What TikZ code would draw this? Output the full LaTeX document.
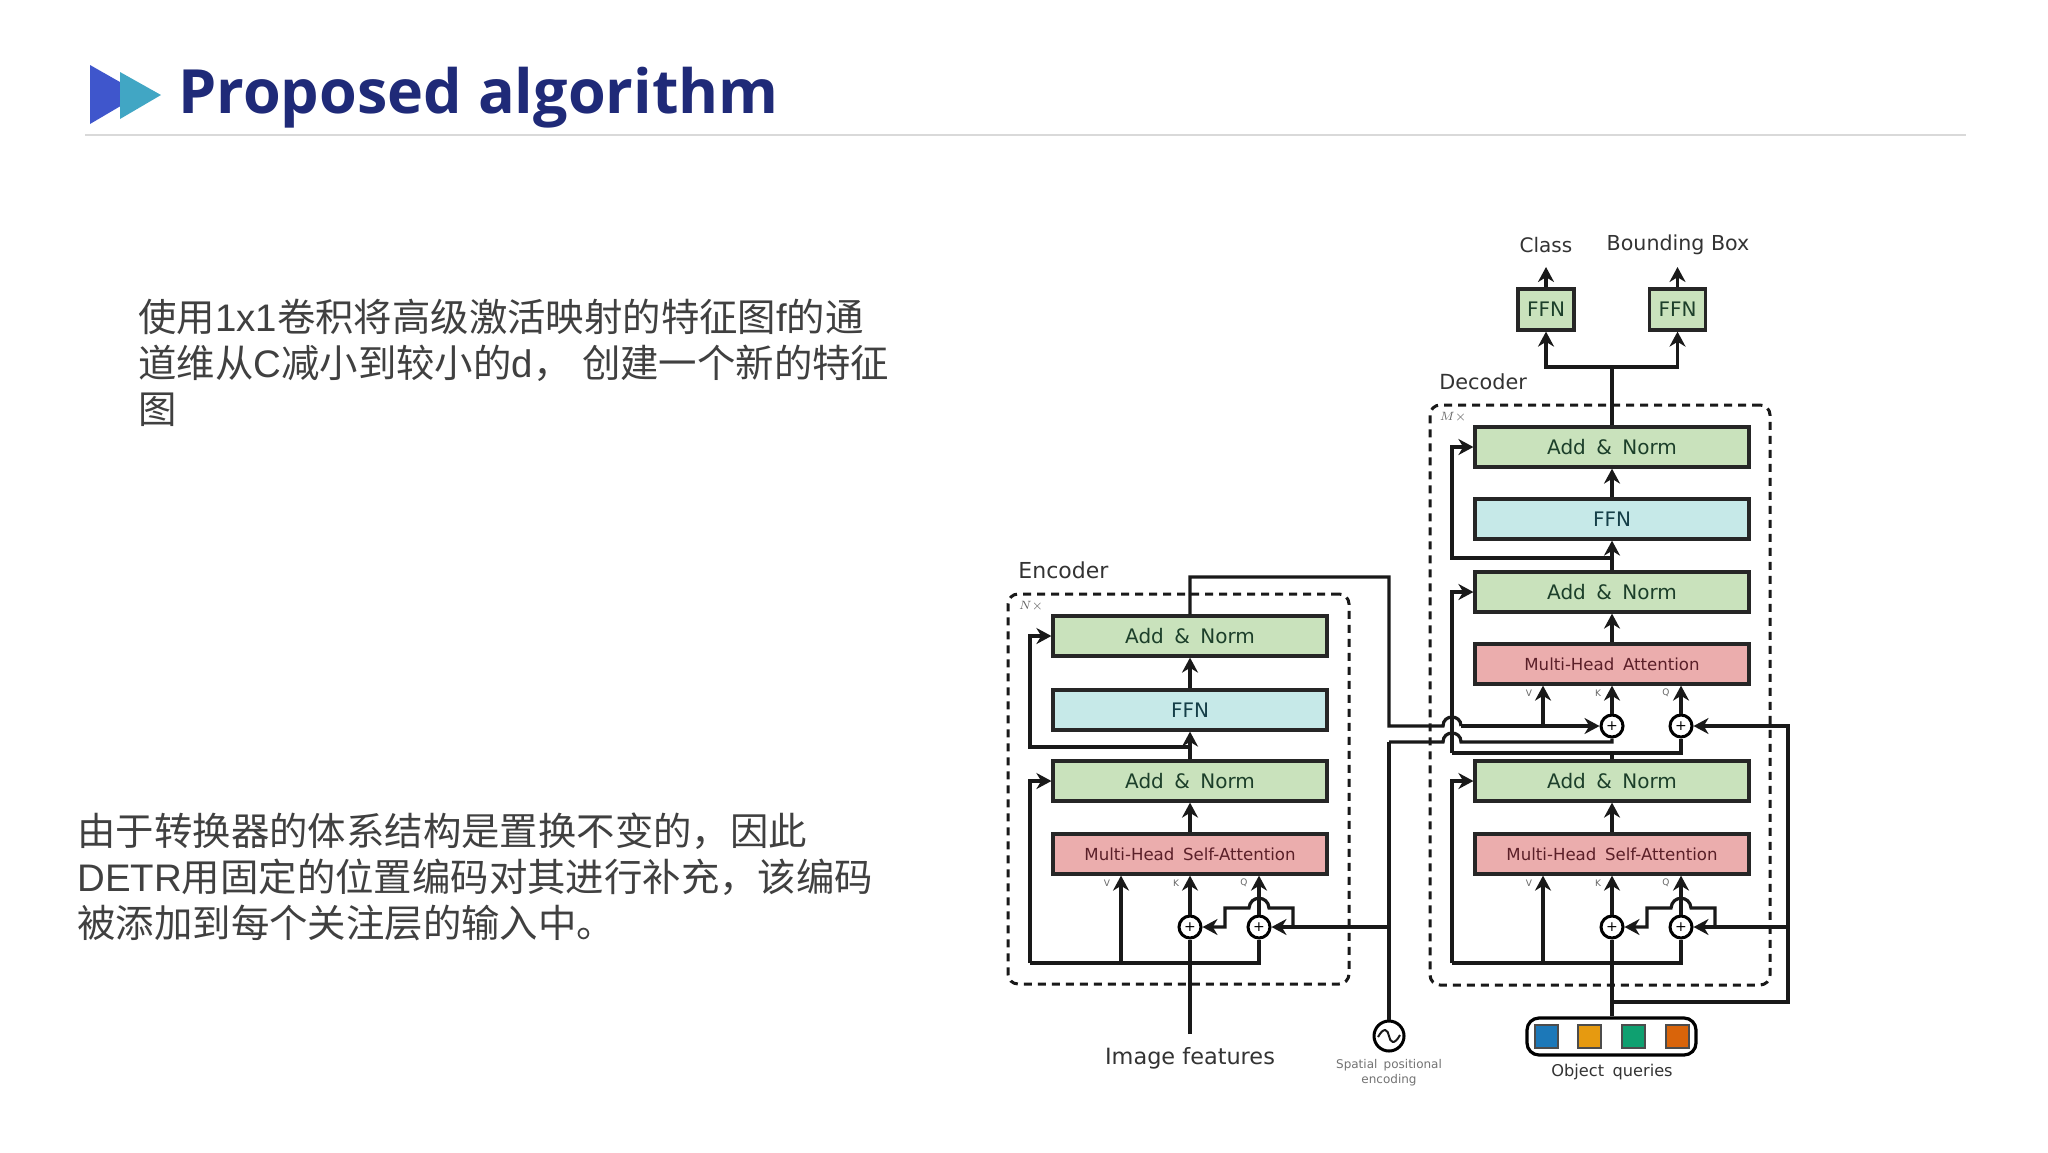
\documentclass[tikz,border=0pt]{standalone}
\usepackage{fontspec}
\setmainfont{Liberation Sans}
\newfontfamily\cjk{Noto Sans CJK SC}
\newfontfamily\djn{DejaVu Sans}
\newfontfamily\ttl{Open Sans}
\newcommand{\wsp}{\hspace{0.52em}}
\usetikzlibrary{arrows.meta,calc}
\definecolor{titleblue}{HTML}{1F2A78}
\definecolor{triA}{HTML}{3F56CC}
\definecolor{triB}{HTML}{41A6C4}
\definecolor{bodygrey}{HTML}{404040}
\definecolor{gbox}{HTML}{C9E2BC}
\definecolor{bbox}{HTML}{C6E9E8}
\definecolor{rbox}{HTML}{EBADAD}
\definecolor{inkg}{HTML}{1C3F2A}
\definecolor{inkb}{HTML}{153F48}
\definecolor{inkr}{HTML}{5A1F28}
\definecolor{lab}{HTML}{333333}
\definecolor{qa}{HTML}{1C78B8}
\definecolor{qb}{HTML}{E69A10}
\definecolor{qc}{HTML}{0FA070}
\definecolor{qd}{HTML}{D9640A}
\tikzset{
  wire/.style={line width=1.6pt,black!90,line join=miter},
  arr/.style={wire,-{Stealth[length=7.5pt,width=8pt,inset=2.4pt]}},
  layer/.style={draw=black!85,line width=1.6pt,minimum width=137pt,minimum height=20pt,inner sep=0pt,font=\djn\fontsize{10}{12}\selectfont},
  an/.style={layer,fill=gbox,text=inkg},
  ff/.style={layer,fill=bbox,text=inkb},
  mh/.style={layer,fill=rbox,text=inkr,font=\djn\fontsize{8.3}{10}\selectfont},
  small/.style={draw=black!85,line width=1.6pt,fill=gbox,text=inkg,minimum width=28pt,minimum height=20.5pt,inner sep=0pt,font=\djn\fontsize{10}{12}\selectfont},
  plus/.style={circle,draw=black,line width=1.5pt,fill=white,minimum size=11pt,inner sep=0pt,font=\djn\fontsize{7}{7}\selectfont},
  dashbox/.style={draw=black!90,line width=1.5pt,dash pattern=on 4pt off 3pt,rounded corners=5pt,inner sep=0pt},
  vkq/.style={inner sep=0pt,text=black!60,font=\djn\fontsize{4.5}{5}\selectfont},
  lbl/.style={inner sep=0pt,text=lab,font=\djn\fontsize{10}{12}\selectfont},
  body/.style={anchor=base west,inner sep=0pt,text=bodygrey,font=\fontsize{19.2}{23}\selectfont},
  sq/.style={draw=black!70,line width=.8pt,minimum size=11.5pt,inner sep=0pt},
}
\begin{document}
\begin{tikzpicture}[x=0.5pt,y=-0.5pt]
\useasboundingbox (0,0) rectangle (2048,1152);
\fill[white] (0,0) rectangle (2048,1152);
% header
\fill[triA] (90,65) -- (141,94) -- (90,124) -- cycle;
\fill[triB] (120,72) -- (161,95) -- (120,119) -- cycle;
\node[anchor=base west,inner sep=0pt,text=titleblue,font=\ttl\bfseries\fontsize{30.5}{36}\selectfont] (title) at (178,113) {Proposed algorithm};
\coordinate (ruleL) at (85,134.5);
\coordinate (ruleR) at (1966,134.5);
\draw[black!15,line width=1pt] (ruleL) -- (ruleR);
% left text
\node[body] (ta) at (138,331) {{\cjk 使用}1x1{\cjk 卷积将高级激活映射的特征图}f{\cjk 的通}};
\node[body] (tb) at (138,377) {{\cjk 道维从}C{\cjk 减小到较小的}d{\cjk ，} {\cjk 创建一个新的特征}};
\node[body] (tc) at (138,423) {{\cjk 图}};
\node[body] (td) at (77,845.5) {{\cjk 由于转换器的体系结构是置换不变的，因此}};
\node[body] (te) at (77,891.5) {DETR{\cjk 用固定的位置编码对其进行补充，该编码}};
\node[body] (tf) at (77,937) {{\cjk 被添加到每个关注层的输入中。}};
% dashed frames
\node[dashbox,minimum width=170.5pt,minimum height=195pt] (encbox) at (1178.5,789) {};
\node[dashbox,minimum width=170pt,minimum height=290pt] (decbox) at (1600,695) {};
\node[lbl,anchor=west,font=\djn\fontsize{11}{13}\selectfont] (enclab) at (1018,570) {Encoder};
\node[lbl,anchor=west,font=\djn\fontsize{10.4}{13}\selectfont] (declab) at (1439,382) {Decoder};
\node[inner sep=0pt,text=black!60,font=\fontsize{6}{7}\selectfont] (nx) at (1031,606) {$N\times$};
\node[inner sep=0pt,text=black!60,font=\fontsize{6}{7}\selectfont] (mx) at (1453,417) {$M\times$};
% encoder
\node[an] (ea) at (1190,636) {Add\wsp\&\wsp Norm};
\node[ff] (ef) at (1190,710) {FFN};
\node[an] (eb) at (1190,781) {Add\wsp\&\wsp Norm};
\node[mh] (em) at (1190,854) {Multi-Head\wsp Self-Attention};
\node[plus] (ep) at (1190,927) {+};
\node[plus] (eq) at (1259,927) {+};
\node[vkq] (ev1) at (1107,883) {V};
\node[vkq] (ek1) at (1176,883) {K};
\node[vkq] (eq1) at (1244,883) {Q};
% decoder
\node[an] (da) at (1612,447) {Add\wsp\&\wsp Norm};
\node[ff] (df) at (1612,519) {FFN};
\node[an] (db) at (1612,592) {Add\wsp\&\wsp Norm};
\node[mh] (dm) at (1612,664) {Multi-Head\wsp Attention};
\node[an] (dc) at (1612,781) {Add\wsp\&\wsp Norm};
\node[mh] (ds) at (1612,854) {Multi-Head\wsp Self-Attention};
\node[plus] (dp) at (1612,726) {+};
\node[plus] (dq) at (1681,726) {+};
\node[plus] (dr) at (1612,927) {+};
\node[plus] (dt) at (1681,927) {+};
\node[vkq] (v2) at (1529,693) {V};
\node[vkq] (k2) at (1598,693) {K};
\node[vkq] (q2) at (1666,693) {Q};
\node[vkq] (v3) at (1529,883) {V};
\node[vkq] (k3) at (1598,883) {K};
\node[vkq] (q3) at (1666,883) {Q};
% heads
\node[small] (fa) at (1546,309.5) {FFN};
\node[small] (fb) at (1677.5,309.5) {FFN};
\node[lbl,font=\djn\fontsize{10}{12}\selectfont] (cls) at (1546,245) {Class};
\node[lbl,font=\djn\fontsize{10.3}{12}\selectfont] (bbx) at (1678,245) {Bounding Box};
\coordinate (cu) at (1546,267);
\coordinate (bu) at (1677.5,267);
% inputs
\node[lbl,font=\djn\fontsize{11.2}{13}\selectfont] (img) at (1190,1058) {Image features};
\node[circle,draw=black,line width=1.5pt,fill=white,minimum size=15pt,inner sep=0pt] (sin) at (1389,1036) {};
\draw[wire,line width=1pt] (1378,1037) .. controls (1384,1026) and (1388,1030) .. (1389,1036) .. controls (1390,1042) and (1394,1046) .. (1400,1035);
\node[align=center,inner sep=0pt,text=black!55,font=\djn\fontsize{6}{7.6}\selectfont] (spl) at (1389,1073) {Spatial\wsp positional\\encoding};
\node[draw=black,line width=1.6pt,rounded corners=6pt,minimum width=84.5pt,minimum height=18.5pt,inner sep=0pt] (oq) at (1611.5,1036.5) {};
\node[sq,fill=qa] (qa1) at (1546.5,1036.5) {};
\node[sq,fill=qb] (qb1) at (1589.5,1036.5) {};
\node[sq,fill=qc] (qc1) at (1633.5,1036.5) {};
\node[sq,fill=qd] (qd1) at (1677.5,1036.5) {};
\node[lbl,font=\djn\fontsize{8.1}{10}\selectfont] (oql) at (1612,1072) {Object\wsp queries};
% named junctions
\coordinate (ibot) at (1190,1034);
\coordinate (eskip) at (1190,747);
\coordinate (dskip) at (1612,558);
\coordinate (dbus) at (1612,367);
% encoder connectors
\draw[arr] (em.north) -- (eb.south);
\draw[arr] (eb.north) -- (ef.south);
\draw[arr] (ef.north) -- (ea.south);
\draw[arr] (eskip) -- (1030,747) -- (1030,636) -- (ea.west);
\draw[wire] (ibot) -- (ep.south);
\draw[arr] (ep.north) -- (em.south -| ep);
\draw[wire] (eq.south) -- (1259,963) -- (1030,963);
\draw[arr] (1030,963) -- (1030,781) -- (eb.west);
\draw[arr] (1121,963) -- (em.south -| 1121,0);
\draw[arr] (eq.north) -- (em.south -| eq);
\draw[wire] (sin.north) -- (1389,742);
\draw[arr] (1389,927) -- (eq.east);
\draw[arr] (1293,927) -- (1293,908) -- (1269,908) .. controls (1268,895) and (1250,895) .. (1249,908) -- (1225,908) -- (1225,927) -- (ep.east);
% encoder to decoder
\draw[wire] (ea.north) -- (1190,577) -- (1389,577) -- (1389,726) -- (1443,726) .. controls (1443,714) and (1461,714) .. (1461,726);
\draw[arr] (1461,726) -- (dp.west);
\draw[arr] (1543,726) -- (dm.south -| 1543,0);
\draw[wire] (1389,742) -- (1443,742) .. controls (1443,730) and (1461,730) .. (1461,742) -- (1612,742) -- (dp.south);
% decoder connectors
\draw[arr] (ds.north) -- (dc.south);
\draw[wire] (dc.north) -- (1612,753);
\draw[wire] (1452,753) -- (1681,753) -- (dq.south);
\draw[arr] (1452,753) -- (1452,592) -- (db.west);
\draw[arr] (dp.north) -- (dm.south);
\draw[arr] (dq.north) -- (dm.south -| dq);
\draw[arr] (dm.north) -- (db.south);
\draw[arr] (db.north) -- (df.south);
\draw[arr] (df.north) -- (da.south);
\draw[arr] (dskip) -- (1452,558) -- (1452,447) -- (da.west);
\draw[wire] (oq.north -| dr) -- (dr.south);
\draw[arr] (dr.north) -- (ds.south);
\draw[arr] (dt.north) -- (ds.south -| dt);
\draw[wire] (dt.south) -- (1681,963) -- (1452,963);
\draw[arr] (1452,963) -- (1452,781) -- (dc.west);
\draw[arr] (1543,963) -- (ds.south -| 1543,0);
\draw[arr] (1612,1002) -- (1788,1002) -- (1788,726) -- (dq.east);
\draw[arr] (1788,927) -- (dt.east);
\draw[arr] (1715,927) -- (1715,908) -- (1691,908) .. controls (1690,895) and (1672,895) .. (1671,908) -- (1647,908) -- (1647,927) -- (dr.east);
% heads connectors
\draw[wire] (da.north) -- (dbus);
\draw[arr] (dbus) -- (1546,367) -- (fa.south);
\draw[arr] (dbus) -- (1677.5,367) -- (fb.south);
\draw[arr] (fa.north) -- (cu);
\draw[arr] (fb.north) -- (bu);
\end{tikzpicture}
\end{document}
